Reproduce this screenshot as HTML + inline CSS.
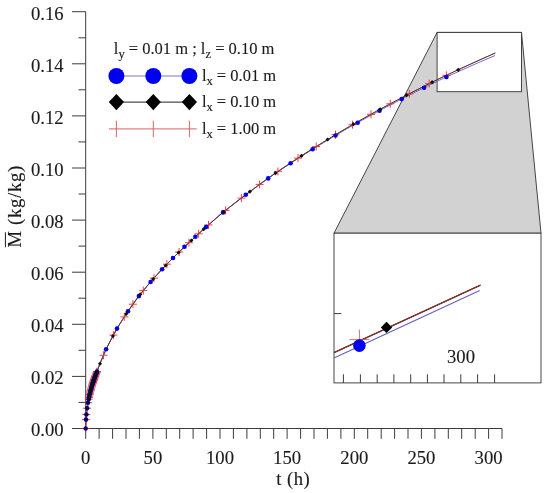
<!DOCTYPE html><html><head><meta charset="utf-8"><title>chart</title><style>html,body{margin:0;padding:0;background:#fff}svg{display:block}text{font-family:"Liberation Serif",serif;fill:#1a1a1a;stroke:#1a1a1a;stroke-width:0.12px}</style></head><body>
<svg width="550" height="493" viewBox="0 0 550 493">
<rect width="550" height="493" fill="#fff"/>
<polygon points="437.1,32.4 521.5,32.4 541,233.2 334,233.2" fill="#d2d2d2" stroke="#333" stroke-width="0.9"/>
<rect x="437.1" y="32.4" width="84.4" height="59.3" fill="#fff" stroke="#333" stroke-width="0.9"/>
<rect x="334" y="233.2" width="207" height="149.7" fill="#fff" stroke="#333" stroke-width="0.9"/>
<g stroke="#3c3c3c" stroke-width="1" fill="none">
<path d="M85.7,11.7V428.5H502"/>
<path d="M72,428.5H85.7"/>
<path d="M78.5,402.4H85.7"/>
<path d="M72,376.4H85.7"/>
<path d="M78.5,350.3H85.7"/>
<path d="M72,324.3H85.7"/>
<path d="M78.5,298.2H85.7"/>
<path d="M72,272.2H85.7"/>
<path d="M78.5,246.1H85.7"/>
<path d="M72,220.1H85.7"/>
<path d="M78.5,194.0H85.7"/>
<path d="M72,168.0H85.7"/>
<path d="M78.5,141.9H85.7"/>
<path d="M72,115.9H85.7"/>
<path d="M78.5,89.8H85.7"/>
<path d="M72,63.8H85.7"/>
<path d="M78.5,37.8H85.7"/>
<path d="M72,11.7H85.7"/>
<path d="M85.7,428.5V438.8"/>
<path d="M99.1,428.5V438.8"/>
<path d="M112.6,428.5V438.8"/>
<path d="M126.0,428.5V438.8"/>
<path d="M139.4,428.5V438.8"/>
<path d="M152.9,428.5V438.8"/>
<path d="M166.3,428.5V438.8"/>
<path d="M179.7,428.5V438.8"/>
<path d="M193.1,428.5V438.8"/>
<path d="M206.6,428.5V438.8"/>
<path d="M220.0,428.5V438.8"/>
<path d="M233.4,428.5V438.8"/>
<path d="M246.9,428.5V438.8"/>
<path d="M260.3,428.5V438.8"/>
<path d="M273.7,428.5V438.8"/>
<path d="M287.1,428.5V438.8"/>
<path d="M300.6,428.5V438.8"/>
<path d="M314.0,428.5V438.8"/>
<path d="M327.4,428.5V438.8"/>
<path d="M340.9,428.5V438.8"/>
<path d="M354.3,428.5V438.8"/>
<path d="M367.7,428.5V438.8"/>
<path d="M381.2,428.5V438.8"/>
<path d="M394.6,428.5V438.8"/>
<path d="M408.0,428.5V438.8"/>
<path d="M421.4,428.5V438.8"/>
<path d="M434.9,428.5V438.8"/>
<path d="M448.3,428.5V438.8"/>
<path d="M461.7,428.5V438.8"/>
<path d="M475.2,428.5V438.8"/>
<path d="M488.6,428.5V438.8"/>
<path d="M502.0,428.5V438.8"/>
<path d="M343.4,382.9V374.3"/>
<path d="M360.4,382.9V374.3"/>
<path d="M377.2,382.9V374.3"/>
<path d="M393.9,382.9V374.3"/>
<path d="M410.7,382.9V374.3"/>
<path d="M427.4,382.9V374.3"/>
<path d="M444.0,382.9V374.3"/>
<path d="M460.8,382.9V374.3"/>
<path d="M477.6,382.9V374.3"/>
<path d="M494.6,382.9V374.3"/>
<path d="M334,313.6H341.4"/>
</g>
<text x="63.6" y="436.3" font-size="18.67" text-anchor="end">0.00</text>
<text x="63.6" y="384.2" font-size="18.67" text-anchor="end">0.02</text>
<text x="63.6" y="332.1" font-size="18.67" text-anchor="end">0.04</text>
<text x="63.6" y="280.0" font-size="18.67" text-anchor="end">0.06</text>
<text x="63.6" y="227.9" font-size="18.67" text-anchor="end">0.08</text>
<text x="63.6" y="175.8" font-size="18.67" text-anchor="end">0.10</text>
<text x="63.6" y="123.7" font-size="18.67" text-anchor="end">0.12</text>
<text x="63.6" y="71.6" font-size="18.67" text-anchor="end">0.14</text>
<text x="63.6" y="19.5" font-size="18.67" text-anchor="end">0.16</text>
<text x="85.7" y="464" font-size="18.67" text-anchor="middle">0</text>
<text x="152.9" y="464" font-size="18.67" text-anchor="middle">50</text>
<text x="220.0" y="464" font-size="18.67" text-anchor="middle">100</text>
<text x="287.1" y="464" font-size="18.67" text-anchor="middle">150</text>
<text x="354.3" y="464" font-size="18.67" text-anchor="middle">200</text>
<text x="421.4" y="464" font-size="18.67" text-anchor="middle">250</text>
<text x="488.6" y="464" font-size="18.67" text-anchor="middle">300</text>
<text x="293.3" y="485" font-size="18.67" text-anchor="middle" letter-spacing="0.5">t (h)</text>
<text transform="translate(20.7,247.6) rotate(-90)" font-size="18.67" letter-spacing="0.7">M (kg/kg)</text>
<path d="M5.4,232.3V247.3" stroke="#1a1a1a" stroke-width="1" fill="none"/>
<text x="461" y="363" font-size="18.67" text-anchor="middle">300</text>
<path d="M85.70,428.50 L85.70,427.64 L85.71,426.77 L85.72,425.91 L85.74,425.04 L85.76,424.18 L85.79,423.32 L85.83,422.45 L85.86,421.59 L85.91,420.72 L85.96,419.86 L86.01,419.00 L86.07,418.13 L86.13,417.27 L86.20,416.41 L86.28,415.54 L86.35,414.68 L86.44,413.82 L86.53,412.96 L86.62,412.09 L86.72,411.23 L86.83,410.37 L86.94,409.51 L87.05,408.65 L87.17,407.79 L87.30,406.93 L87.43,406.06 L87.57,405.20 L87.71,404.34 L87.85,403.48 L88.00,402.63 L88.16,401.77 L88.32,400.91 L88.49,400.05 L88.66,399.19 L88.83,398.33 L89.02,397.48 L89.20,396.62 L89.39,395.76 L89.59,394.91 L89.79,394.05 L90.00,393.20 L90.21,392.34 L90.43,391.49 L90.65,390.63 L90.88,389.78 L91.11,388.93 L91.35,388.07 L91.59,387.22 L91.84,386.37 L92.10,385.52 L92.35,384.67 L92.62,383.82 L92.89,382.97 L93.16,382.12 L93.44,381.27 L93.72,380.43 L94.01,379.58 L94.31,378.73 L94.61,377.89 L94.91,377.04 L95.22,376.20 L95.53,375.36 L95.85,374.51 L96.18,373.67 L96.51,372.83 L96.84,371.99 L97.18,371.09 L97.53,370.16 L97.88,369.22 L98.24,368.27 L98.60,367.33 L98.96,366.38 L99.33,365.42 L99.71,364.47 L100.09,363.50 L100.48,362.54 L100.87,361.57 L101.27,360.60 L101.67,359.62 L102.07,358.64 L102.49,357.65 L102.90,356.66 L103.32,355.67 L103.75,354.67 L104.18,353.67 L104.62,352.66 L105.06,351.65 L105.51,350.64 L105.97,349.61 L106.42,348.64 L106.89,347.69 L107.35,346.74 L107.83,345.79 L108.31,344.83 L108.79,343.88 L109.28,342.92 L109.77,341.96 L110.27,340.99 L110.78,340.03 L111.28,339.06 L111.80,338.09 L112.32,337.12 L112.84,336.14 L113.37,335.16 L113.91,334.18 L114.45,333.20 L114.99,332.22 L115.54,331.23 L116.10,330.24 L116.66,329.25 L117.22,328.27 L117.79,327.32 L118.37,326.36 L118.95,325.40 L119.54,324.44 L120.13,323.48 L120.72,322.52 L121.32,321.55 L121.93,320.59 L122.54,319.62 L123.16,318.65 L123.78,317.68 L124.41,316.71 L125.04,315.73 L125.68,314.76 L126.32,313.78 L126.96,312.80 L127.62,311.82 L128.27,310.85 L128.94,309.89 L129.60,308.92 L130.28,307.95 L130.96,306.99 L131.64,306.02 L132.33,305.05 L133.02,304.08 L133.72,303.11 L134.42,302.13 L135.13,301.16 L135.84,300.18 L136.56,299.21 L137.29,298.23 L138.02,297.25 L138.75,296.27 L139.49,295.29 L140.24,294.36 L140.98,293.42 L141.74,292.49 L142.50,291.56 L143.26,290.62 L144.03,289.69 L144.81,288.76 L145.59,287.82 L146.38,286.89 L147.17,285.95 L147.96,285.02 L148.76,284.08 L149.57,283.14 L150.38,282.21 L151.20,281.27 L152.02,280.33 L152.84,279.40 L153.67,278.46 L154.51,277.52 L155.35,276.58 L156.20,275.64 L157.05,274.71 L157.91,273.77 L158.77,272.83 L159.64,271.89 L160.51,270.95 L161.39,270.01 L162.27,269.07 L163.16,268.12 L164.05,267.18 L164.95,266.24 L165.85,265.30 L166.76,264.36 L167.67,263.41 L168.59,262.47 L169.52,261.53 L170.44,260.58 L171.38,259.64 L172.32,258.69 L173.26,257.75 L174.21,256.80 L175.17,255.86 L176.12,254.91 L177.09,253.96 L178.06,253.02 L179.03,252.07 L180.01,251.12 L181.00,250.17 L181.99,249.23 L182.98,248.28 L183.98,247.33 L184.99,246.38 L186.00,245.43 L187.02,244.48 L188.04,243.53 L189.06,242.58 L190.09,241.63 L191.13,240.67 L192.17,239.72 L193.22,238.77 L194.27,237.79 L195.33,236.81 L196.39,235.82 L197.45,234.84 L198.53,233.86 L199.60,232.87 L200.69,231.89 L201.77,230.90 L202.87,229.91 L203.96,228.93 L205.07,227.94 L206.17,226.95 L207.29,225.96 L208.40,224.96 L209.53,223.97 L210.66,222.98 L211.79,221.99 L212.93,220.99 L214.07,220.00 L215.22,219.00 L216.37,218.00 L217.53,217.00 L218.70,216.00 L219.87,215.00 L221.04,214.04 L222.22,213.09 L223.40,212.13 L224.59,211.18 L225.79,210.22 L226.99,209.26 L228.19,208.31 L229.40,207.35 L230.62,206.39 L231.84,205.43 L233.06,204.48 L234.30,203.52 L235.53,202.56 L236.77,201.60 L238.02,200.64 L239.27,199.68 L240.53,198.72 L241.79,197.76 L243.05,196.80 L244.32,195.84 L245.60,194.88 L246.88,193.91 L248.17,192.95 L249.46,191.99 L250.76,191.03 L252.06,190.06 L253.37,189.10 L254.68,188.14 L256.00,187.17 L257.32,186.21 L258.65,185.24 L259.98,184.28 L261.32,183.31 L262.66,182.35 L264.01,181.38 L265.36,180.42 L266.72,179.45 L268.09,178.48 L269.46,177.51 L270.83,176.55 L272.21,175.58 L273.59,174.61 L274.98,173.66 L276.38,172.72 L277.78,171.78 L279.18,170.84 L280.59,169.90 L282.00,168.95 L283.42,168.01 L284.85,167.07 L286.28,166.12 L287.72,165.18 L289.16,164.24 L290.60,163.30 L292.05,162.35 L293.51,161.41 L294.97,160.47 L296.43,159.52 L297.91,158.58 L299.38,157.64 L300.86,156.69 L302.35,155.75 L303.84,154.81 L305.34,153.86 L306.84,152.92 L308.35,151.98 L309.86,151.03 L311.38,150.09 L312.90,149.15 L314.42,148.20 L315.96,147.26 L317.49,146.31 L319.04,145.37 L320.59,144.43 L322.14,143.48 L323.70,142.54 L325.26,141.59 L326.83,140.65 L328.40,139.70 L329.98,138.76 L331.56,137.82 L333.15,136.87 L334.75,135.93 L336.35,134.98 L337.95,134.04 L339.56,133.09 L341.17,132.15 L342.79,131.20 L344.42,130.26 L346.05,129.31 L347.68,128.37 L349.32,127.42 L350.97,126.47 L352.62,125.53 L354.27,124.58 L355.93,123.65 L357.60,122.72 L359.27,121.79 L360.94,120.86 L362.63,119.93 L364.31,119.00 L366.00,118.07 L367.70,117.14 L369.40,116.21 L371.11,115.28 L372.82,114.35 L374.53,113.42 L376.26,112.49 L377.98,111.56 L379.72,110.63 L381.45,109.71 L383.20,108.78 L384.94,107.85 L386.69,106.92 L388.45,105.99 L390.22,105.06 L391.98,104.13 L393.76,103.20 L395.53,102.27 L397.32,101.35 L399.11,100.42 L400.90,99.49 L402.70,98.56 L404.50,97.63 L406.31,96.70 L408.12,95.77 L409.94,94.85 L411.77,93.92 L413.60,92.99 L415.43,92.06 L417.27,91.13 L419.12,90.21 L420.96,89.28 L422.82,88.35 L424.68,87.42 L426.54,86.50 L428.42,85.57 L430.29,84.64 L432.17,83.72 L434.06,82.79 L435.95,81.88 L437.84,81.00 L439.74,80.12 L441.65,79.23 L443.56,78.35 L445.48,77.46 L447.40,76.58 L449.32,75.70 L451.26,74.82 L453.19,73.93 L455.14,73.05 L457.08,72.17 L459.03,71.29 L460.99,70.41 L462.95,69.53 L464.92,68.65 L466.89,67.78 L468.87,66.90 L470.85,66.02 L472.84,65.14 L474.83,64.27 L476.83,63.39 L478.84,62.51 L480.84,61.64 L482.86,60.76 L484.88,59.89 L486.90,59.01 L488.93,58.14 L490.96,57.27 L493.00,56.39 L495.05,55.52" fill="none" stroke="#5a5ac8" stroke-width="0.9"/>
<path d="M85.70,428.50 L85.70,427.64 L85.71,426.77 L85.72,425.91 L85.74,425.04 L85.76,424.18 L85.79,423.31 L85.83,422.45 L85.86,421.59 L85.91,420.72 L85.96,419.86 L86.01,418.99 L86.07,418.13 L86.13,417.27 L86.20,416.40 L86.28,415.54 L86.36,414.68 L86.44,413.81 L86.53,412.95 L86.62,412.09 L86.72,411.23 L86.83,410.36 L86.94,409.50 L87.05,408.64 L87.17,407.78 L87.30,406.92 L87.43,406.06 L87.57,405.20 L87.71,404.34 L87.85,403.48 L88.00,402.62 L88.16,401.76 L88.32,400.90 L88.49,400.04 L88.66,399.18 L88.84,398.32 L89.02,397.47 L89.20,396.61 L89.40,395.75 L89.59,394.90 L89.80,394.04 L90.00,393.18 L90.22,392.33 L90.43,391.47 L90.66,390.62 L90.88,389.77 L91.12,388.91 L91.36,388.06 L91.60,387.21 L91.85,386.36 L92.10,385.51 L92.36,384.66 L92.62,383.81 L92.89,382.96 L93.17,382.11 L93.44,381.26 L93.73,380.41 L94.02,379.56 L94.31,378.72 L94.61,377.87 L94.92,377.03 L95.23,376.18 L95.54,375.34 L95.86,374.50 L96.19,373.65 L96.52,372.81 L96.85,371.97 L97.19,371.07 L97.54,370.14 L97.89,369.20 L98.24,368.25 L98.61,367.31 L98.97,366.36 L99.34,365.40 L99.72,364.44 L100.10,363.48 L100.49,362.52 L100.88,361.55 L101.28,360.57 L101.68,359.59 L102.08,358.61 L102.50,357.63 L102.91,356.64 L103.34,355.64 L103.76,354.64 L104.20,353.64 L104.63,352.63 L105.08,351.62 L105.53,350.61 L105.98,349.58 L106.44,348.61 L106.90,347.67 L107.37,346.71 L107.84,345.76 L108.32,344.81 L108.80,343.85 L109.29,342.89 L109.79,341.93 L110.29,340.96 L110.79,340.00 L111.30,339.03 L111.82,338.06 L112.34,337.08 L112.86,336.11 L113.39,335.13 L113.93,334.15 L114.47,333.17 L115.01,332.18 L115.56,331.20 L116.12,330.21 L116.68,329.21 L117.24,328.24 L117.81,327.28 L118.39,326.32 L118.97,325.36 L119.56,324.40 L120.15,323.44 L120.75,322.48 L121.35,321.51 L121.95,320.55 L122.57,319.58 L123.18,318.61 L123.80,317.64 L124.43,316.67 L125.06,315.69 L125.70,314.72 L126.34,313.74 L126.99,312.76 L127.64,311.78 L128.30,310.81 L128.97,309.84 L129.63,308.88 L130.31,307.91 L130.99,306.95 L131.67,305.98 L132.36,305.01 L133.05,304.04 L133.75,303.06 L134.45,302.09 L135.16,301.11 L135.88,300.14 L136.60,299.16 L137.32,298.18 L138.05,297.20 L138.79,296.22 L139.53,295.25 L140.27,294.31 L141.02,293.38 L141.78,292.45 L142.54,291.51 L143.30,290.58 L144.07,289.64 L144.85,288.71 L145.63,287.77 L146.42,286.84 L147.21,285.90 L148.00,284.97 L148.80,284.03 L149.61,283.10 L150.42,282.16 L151.24,281.22 L152.06,280.28 L152.89,279.35 L153.72,278.41 L154.56,277.47 L155.40,276.53 L156.25,275.59 L157.10,274.65 L157.96,273.71 L158.82,272.77 L159.69,271.83 L160.56,270.89 L161.44,269.95 L162.32,269.01 L163.21,268.07 L164.10,267.13 L165.00,266.19 L165.91,265.24 L166.81,264.30 L167.73,263.36 L168.65,262.41 L169.57,261.47 L170.50,260.53 L171.43,259.58 L172.37,258.64 L173.32,257.69 L174.27,256.75 L175.22,255.80 L176.18,254.85 L177.15,253.91 L178.12,252.96 L179.09,252.01 L180.08,251.06 L181.06,250.11 L182.05,249.17 L183.05,248.22 L184.05,247.27 L185.05,246.32 L186.07,245.37 L187.08,244.42 L188.10,243.47 L189.13,242.51 L190.16,241.56 L191.20,240.61 L192.24,239.66 L193.29,238.70 L194.34,237.72 L195.40,236.74 L196.46,235.76 L197.53,234.77 L198.60,233.79 L199.68,232.80 L200.76,231.82 L201.85,230.83 L202.94,229.84 L204.04,228.86 L205.14,227.87 L206.25,226.88 L207.37,225.89 L208.48,224.89 L209.61,223.90 L210.74,222.91 L211.87,221.91 L213.01,220.92 L214.16,219.92 L215.30,218.93 L216.46,217.93 L217.62,216.93 L218.78,215.93 L219.95,214.93 L221.13,213.97 L222.31,213.02 L223.49,212.06 L224.68,211.10 L225.88,210.15 L227.08,209.19 L228.29,208.23 L229.50,207.27 L230.71,206.32 L231.94,205.36 L233.16,204.40 L234.39,203.44 L235.63,202.48 L236.87,201.52 L238.12,200.56 L239.37,199.60 L240.63,198.64 L241.89,197.68 L243.16,196.72 L244.43,195.76 L245.71,194.80 L246.99,193.83 L248.28,192.86 L249.57,191.89 L250.87,190.91 L252.17,189.94 L253.48,188.96 L254.79,187.99 L256.11,187.01 L257.43,186.04 L258.76,185.06 L260.10,184.08 L261.44,183.11 L262.78,182.13 L264.13,181.15 L265.48,180.17 L266.84,179.19 L268.21,178.21 L269.58,177.24 L270.95,176.26 L272.33,175.28 L273.72,174.29 L275.11,173.34 L276.50,172.39 L277.90,171.43 L279.31,170.48 L280.72,169.52 L282.13,168.57 L283.55,167.61 L284.98,166.66 L286.41,165.70 L287.85,164.75 L289.29,163.79 L290.74,162.84 L292.19,161.88 L293.64,160.92 L295.11,159.97 L296.57,159.01 L298.04,158.06 L299.52,157.10 L301.00,156.14 L302.49,155.19 L303.98,154.23 L305.48,153.27 L306.98,152.32 L308.49,151.36 L310.01,150.40 L311.52,149.45 L313.05,148.49 L314.57,147.53 L316.11,146.58 L317.65,145.62 L319.19,144.66 L320.74,143.70 L322.29,142.75 L323.85,141.79 L325.42,140.83 L326.99,139.87 L328.56,138.91 L330.14,137.96 L331.73,137.00 L333.31,136.04 L334.91,135.08 L336.51,134.12 L338.12,133.16 L339.73,132.20 L341.34,131.24 L342.96,130.29 L344.59,129.33 L346.22,128.37 L347.85,127.41 L349.49,126.45 L351.14,125.49 L352.79,124.53 L354.45,123.57 L356.11,122.62 L357.78,121.68 L359.45,120.73 L361.13,119.79 L362.81,118.85 L364.49,117.90 L366.19,116.96 L367.88,116.01 L369.59,115.07 L371.29,114.12 L373.01,113.18 L374.72,112.23 L376.45,111.29 L378.18,110.34 L379.91,109.40 L381.65,108.45 L383.39,107.51 L385.14,106.57 L386.89,105.62 L388.65,104.68 L390.42,103.73 L392.18,102.79 L393.96,101.84 L395.74,100.90 L397.52,99.96 L399.31,99.01 L401.11,98.07 L402.91,97.12 L404.71,96.18 L406.52,95.24 L408.34,94.29 L410.16,93.35 L411.98,92.40 L413.81,91.46 L415.65,90.52 L417.49,89.57 L419.33,88.63 L421.18,87.69 L423.04,86.74 L424.90,85.80 L426.77,84.86 L428.64,83.91 L430.52,82.97 L432.40,82.02 L434.28,81.08 L436.18,80.16 L438.07,79.25 L439.98,78.34 L441.88,77.43 L443.80,76.52 L445.71,75.61 L447.64,74.70 L449.56,73.79 L451.50,72.89 L453.43,71.98 L455.38,71.07 L457.33,70.17 L459.28,69.26 L461.24,68.35 L463.20,67.45 L465.17,66.54 L467.14,65.64 L469.12,64.73 L471.11,63.83 L473.10,62.92 L475.09,62.02 L477.09,61.12 L479.09,60.21 L481.10,59.31 L483.12,58.41 L485.14,57.51 L487.16,56.61 L489.19,55.71 L491.23,54.81 L493.27,53.91 L495.31,53.01" fill="none" stroke="#202020" stroke-width="1"/>
<path d="M85.70,428.50 L85.70,427.64 L85.71,426.77 L85.72,425.91 L85.74,425.04 L85.76,424.18 L85.79,423.31 L85.83,422.45 L85.86,421.59 L85.91,420.72 L85.96,419.86 L86.01,418.99 L86.07,418.13 L86.13,417.27 L86.20,416.40 L86.28,415.54 L86.36,414.68 L86.44,413.81 L86.53,412.95 L86.62,412.09 L86.72,411.23 L86.83,410.36 L86.94,409.50 L87.05,408.64 L87.17,407.78 L87.30,406.92 L87.43,406.06 L87.57,405.20 L87.71,404.34 L87.85,403.48 L88.00,402.62 L88.16,401.76 L88.32,400.90 L88.49,400.04 L88.66,399.18 L88.84,398.32 L89.02,397.47 L89.20,396.61 L89.40,395.75 L89.59,394.90 L89.80,394.04 L90.00,393.18 L90.22,392.33 L90.43,391.47 L90.66,390.62 L90.88,389.77 L91.12,388.91 L91.36,388.06 L91.60,387.21 L91.85,386.36 L92.10,385.51 L92.36,384.66 L92.62,383.81 L92.89,382.96 L93.17,382.11 L93.44,381.26 L93.73,380.41 L94.02,379.56 L94.31,378.72 L94.61,377.87 L94.92,377.03 L95.23,376.18 L95.54,375.34 L95.86,374.50 L96.19,373.65 L96.52,372.81 L96.85,371.97 L97.19,371.07 L97.54,370.14 L97.89,369.20 L98.24,368.25 L98.61,367.31 L98.97,366.36 L99.34,365.40 L99.72,364.44 L100.10,363.48 L100.49,362.52 L100.88,361.55 L101.28,360.57 L101.68,359.59 L102.08,358.61 L102.50,357.63 L102.91,356.64 L103.34,355.64 L103.76,354.64 L104.20,353.64 L104.63,352.63 L105.08,351.62 L105.53,350.61 L105.98,349.58 L106.44,348.61 L106.90,347.67 L107.37,346.71 L107.84,345.76 L108.32,344.81 L108.80,343.85 L109.29,342.89 L109.79,341.93 L110.29,340.96 L110.79,340.00 L111.30,339.03 L111.82,338.06 L112.34,337.08 L112.86,336.11 L113.39,335.13 L113.93,334.15 L114.47,333.17 L115.01,332.18 L115.56,331.20 L116.12,330.21 L116.68,329.21 L117.24,328.24 L117.81,327.28 L118.39,326.32 L118.97,325.36 L119.56,324.40 L120.15,323.44 L120.75,322.48 L121.35,321.51 L121.95,320.55 L122.57,319.58 L123.18,318.61 L123.80,317.64 L124.43,316.67 L125.06,315.69 L125.70,314.72 L126.34,313.74 L126.99,312.76 L127.64,311.78 L128.30,310.81 L128.97,309.84 L129.63,308.88 L130.31,307.91 L130.99,306.95 L131.67,305.98 L132.36,305.01 L133.05,304.04 L133.75,303.06 L134.45,302.09 L135.16,301.11 L135.88,300.14 L136.60,299.16 L137.32,298.18 L138.05,297.20 L138.79,296.22 L139.53,295.25 L140.27,294.31 L141.02,293.38 L141.78,292.45 L142.54,291.51 L143.30,290.58 L144.07,289.64 L144.85,288.71 L145.63,287.77 L146.42,286.84 L147.21,285.90 L148.00,284.97 L148.80,284.03 L149.61,283.10 L150.42,282.16 L151.24,281.22 L152.06,280.28 L152.89,279.35 L153.72,278.41 L154.56,277.47 L155.40,276.53 L156.25,275.59 L157.10,274.65 L157.96,273.71 L158.82,272.77 L159.69,271.83 L160.56,270.89 L161.44,269.95 L162.32,269.01 L163.21,268.07 L164.10,267.13 L165.00,266.19 L165.91,265.24 L166.81,264.30 L167.73,263.36 L168.65,262.41 L169.57,261.47 L170.50,260.53 L171.43,259.58 L172.37,258.64 L173.32,257.69 L174.27,256.75 L175.22,255.80 L176.18,254.85 L177.15,253.91 L178.12,252.96 L179.09,252.01 L180.08,251.06 L181.06,250.11 L182.05,249.17 L183.05,248.22 L184.05,247.27 L185.05,246.32 L186.07,245.37 L187.08,244.42 L188.10,243.47 L189.13,242.51 L190.16,241.56 L191.20,240.61 L192.24,239.66 L193.29,238.70 L194.34,237.72 L195.40,236.74 L196.46,235.76 L197.53,234.77 L198.60,233.79 L199.68,232.80 L200.76,231.82 L201.85,230.83 L202.94,229.84 L204.04,228.86 L205.14,227.87 L206.25,226.88 L207.37,225.89 L208.48,224.89 L209.61,223.90 L210.74,222.91 L211.87,221.91 L213.01,220.92 L214.16,219.92 L215.30,218.93 L216.46,217.93 L217.62,216.93 L218.78,215.93 L219.95,214.93 L221.13,213.97 L222.31,213.02 L223.49,212.06 L224.68,211.10 L225.88,210.15 L227.08,209.19 L228.29,208.23 L229.50,207.27 L230.71,206.32 L231.94,205.36 L233.16,204.40 L234.39,203.44 L235.63,202.48 L236.87,201.52 L238.12,200.56 L239.37,199.60 L240.63,198.64 L241.89,197.68 L243.16,196.72 L244.43,195.76 L245.71,194.80 L246.99,193.83 L248.28,192.86 L249.57,191.89 L250.87,190.91 L252.17,189.94 L253.48,188.96 L254.79,187.99 L256.11,187.01 L257.43,186.04 L258.76,185.06 L260.10,184.08 L261.44,183.11 L262.78,182.13 L264.13,181.15 L265.48,180.17 L266.84,179.19 L268.21,178.21 L269.58,177.24 L270.95,176.26 L272.33,175.28 L273.72,174.29 L275.11,173.34 L276.50,172.39 L277.90,171.43 L279.31,170.48 L280.72,169.52 L282.13,168.57 L283.55,167.61 L284.98,166.66 L286.41,165.70 L287.85,164.75 L289.29,163.79 L290.74,162.84 L292.19,161.88 L293.64,160.92 L295.11,159.97 L296.57,159.01 L298.04,158.06 L299.52,157.10 L301.00,156.14 L302.49,155.19 L303.98,154.23 L305.48,153.27 L306.98,152.32 L308.49,151.36 L310.01,150.40 L311.52,149.45 L313.05,148.49 L314.57,147.53 L316.11,146.58 L317.65,145.62 L319.19,144.66 L320.74,143.70 L322.29,142.75 L323.85,141.79 L325.42,140.83 L326.99,139.87 L328.56,138.91 L330.14,137.96 L331.73,137.00 L333.31,136.04 L334.91,135.08 L336.51,134.12 L338.12,133.16 L339.73,132.20 L341.34,131.24 L342.96,130.29 L344.59,129.33 L346.22,128.37 L347.85,127.41 L349.49,126.45 L351.14,125.49 L352.79,124.53 L354.45,123.57 L356.11,122.62 L357.78,121.68 L359.45,120.73 L361.13,119.79 L362.81,118.85 L364.49,117.90 L366.19,116.96 L367.88,116.01 L369.59,115.07 L371.29,114.12 L373.01,113.18 L374.72,112.23 L376.45,111.29 L378.18,110.34 L379.91,109.40 L381.65,108.45 L383.39,107.51 L385.14,106.57 L386.89,105.62 L388.65,104.68 L390.42,103.73 L392.18,102.79 L393.96,101.84 L395.74,100.90 L397.52,99.96 L399.31,99.01 L401.11,98.07 L402.91,97.12 L404.71,96.18 L406.52,95.24 L408.34,94.29 L410.16,93.35 L411.98,92.40 L413.81,91.46 L415.65,90.52 L417.49,89.57 L419.33,88.63 L421.18,87.69 L423.04,86.74 L424.90,85.80 L426.77,84.86 L428.64,83.91 L430.52,82.97 L432.40,82.02 L434.28,81.08 L436.18,80.16 L438.07,79.25 L439.98,78.34 L441.88,77.43 L443.80,76.52 L445.71,75.61 L447.64,74.70 L449.56,73.79 L451.50,72.89 L453.43,71.98 L455.38,71.07 L457.33,70.17 L459.28,69.26 L461.24,68.35 L463.20,67.45 L465.17,66.54 L467.14,65.64 L469.12,64.73 L471.11,63.83 L473.10,62.92 L475.09,62.02 L477.09,61.12 L479.09,60.21 L481.10,59.31 L483.12,58.41 L485.14,57.51 L487.16,56.61 L489.19,55.71 L491.23,54.81 L493.27,53.91 L495.31,53.01" fill="none" stroke="#b03030" stroke-width="0.6" opacity="0.8"/>
<g stroke="#e03030" stroke-width="0.9" fill="none">
<path d="M81.7,428.5h8M85.7,424.5v8"/>
<path d="M82.0,419.6h8M86.0,415.6v8"/>
<path d="M82.4,414.5h8M86.4,410.5v8"/>
<path d="M83.1,408.2h8M87.1,404.2v8"/>
<path d="M84.0,402.7h8M88.0,398.7v8"/>
<path d="M84.7,399.2h8M88.7,395.2v8"/>
<path d="M85.0,397.6h8M89.0,393.6v8"/>
<path d="M85.3,396.1h8M89.3,392.1v8"/>
<path d="M85.7,394.6h8M89.7,390.6v8"/>
<path d="M86.0,393.2h8M90.0,389.2v8"/>
<path d="M86.3,391.9h8M90.3,387.9v8"/>
<path d="M86.7,390.6h8M90.7,386.6v8"/>
<path d="M87.0,389.3h8M91.0,385.3v8"/>
<path d="M87.3,388.1h8M91.3,384.1v8"/>
<path d="M87.7,386.9h8M91.7,382.9v8"/>
<path d="M88.0,385.8h8M92.0,381.8v8"/>
<path d="M88.3,384.7h8M92.3,380.7v8"/>
<path d="M88.7,383.6h8M92.7,379.6v8"/>
<path d="M89.0,382.6h8M93.0,378.6v8"/>
<path d="M89.4,381.5h8M93.4,377.5v8"/>
<path d="M89.7,380.5h8M93.7,376.5v8"/>
<path d="M90.0,379.5h8M94.0,375.5v8"/>
<path d="M90.4,378.6h8M94.4,374.6v8"/>
<path d="M90.7,377.6h8M94.7,373.6v8"/>
<path d="M91.0,376.7h8M95.0,372.7v8"/>
<path d="M91.4,375.8h8M95.4,371.8v8"/>
<path d="M91.7,374.9h8M95.7,370.9v8"/>
<path d="M92.0,374.0h8M96.0,370.0v8"/>
<path d="M92.4,373.2h8M96.4,369.2v8"/>
<path d="M92.7,372.3h8M96.7,368.3v8"/>
<path d="M93.0,371.5h8M97.0,367.5v8"/>
<path d="M99.5,355.3h8M103.5,351.3v8"/>
<path d="M109.4,335.1h8M113.4,331.1v8"/>
<path d="M120.3,316.9h8M124.3,312.9v8"/>
<path d="M128.9,304.2h8M132.9,300.2v8"/>
<path d="M139.3,290.6h8M143.3,286.6v8"/>
<path d="M150.0,278.1h8M154.0,274.1v8"/>
<path d="M162.9,264.2h8M166.9,260.2v8"/>
<path d="M175.1,252.0h8M179.1,248.0v8"/>
<path d="M184.9,242.7h8M188.9,238.7v8"/>
<path d="M194.6,233.8h8M198.6,229.8v8"/>
<path d="M204.5,224.9h8M208.5,220.9v8"/>
<path d="M221.6,210.4h8M225.6,206.4v8"/>
<path d="M237.4,198.1h8M241.4,194.1v8"/>
<path d="M255.6,184.4h8M259.6,180.4v8"/>
<path d="M273.9,171.4h8M277.9,167.4v8"/>
<path d="M294.0,158.1h8M298.0,154.1v8"/>
<path d="M312.2,146.5h8M316.2,142.5v8"/>
<path d="M331.5,134.7h8M335.5,130.7v8"/>
<path d="M348.5,124.7h8M352.5,120.7v8"/>
<path d="M367.0,114.3h8M371.0,110.3v8"/>
<path d="M386.3,103.8h8M390.3,99.8v8"/>
<path d="M405.3,93.8h8M409.3,89.8v8"/>
<path d="M425.2,83.6h8M429.2,79.6v8"/>
<path d="M442.4,75.3h8M446.4,71.3v8"/>
</g>
<g fill="#0000e6">
<circle cx="85.7" cy="428.5" r="2.3"/>
<circle cx="86.0" cy="419.6" r="2.3"/>
<circle cx="86.4" cy="414.5" r="2.3"/>
<circle cx="87.1" cy="408.2" r="2.3"/>
<circle cx="88.0" cy="402.7" r="2.3"/>
<circle cx="88.7" cy="399.2" r="2.3"/>
<circle cx="89.0" cy="397.6" r="2.3"/>
<circle cx="89.3" cy="396.1" r="2.3"/>
<circle cx="89.7" cy="394.6" r="2.3"/>
<circle cx="90.0" cy="393.2" r="2.3"/>
<circle cx="90.3" cy="391.9" r="2.3"/>
<circle cx="90.7" cy="390.6" r="2.3"/>
<circle cx="91.0" cy="389.3" r="2.3"/>
<circle cx="91.3" cy="388.1" r="2.3"/>
<circle cx="91.7" cy="386.9" r="2.3"/>
<circle cx="92.0" cy="385.8" r="2.3"/>
<circle cx="92.3" cy="384.7" r="2.3"/>
<circle cx="92.7" cy="383.6" r="2.3"/>
<circle cx="93.0" cy="382.6" r="2.3"/>
<circle cx="93.4" cy="381.5" r="2.3"/>
<circle cx="93.7" cy="380.5" r="2.3"/>
<circle cx="94.0" cy="379.5" r="2.3"/>
<circle cx="94.4" cy="378.6" r="2.3"/>
<circle cx="94.7" cy="377.6" r="2.3"/>
<circle cx="95.0" cy="376.7" r="2.3"/>
<circle cx="95.4" cy="375.8" r="2.3"/>
<circle cx="95.7" cy="374.9" r="2.3"/>
<circle cx="96.0" cy="374.0" r="2.3"/>
<circle cx="96.4" cy="373.2" r="2.3"/>
<circle cx="96.7" cy="372.3" r="2.3"/>
<circle cx="97.0" cy="371.5" r="2.3"/>
<circle cx="106.1" cy="349.3" r="2.3"/>
<circle cx="117.0" cy="328.6" r="2.3"/>
<circle cx="128.0" cy="311.3" r="2.3"/>
<circle cx="138.9" cy="296.1" r="2.3"/>
<circle cx="150.6" cy="282.0" r="2.3"/>
<circle cx="162.1" cy="269.2" r="2.3"/>
<circle cx="173.0" cy="258.0" r="2.3"/>
<circle cx="184.5" cy="246.8" r="2.3"/>
<circle cx="195.4" cy="236.7" r="2.3"/>
<circle cx="206.1" cy="227.0" r="2.3"/>
<circle cx="223.1" cy="212.4" r="2.3"/>
<circle cx="245.8" cy="194.7" r="2.3"/>
<circle cx="268.2" cy="178.4" r="2.3"/>
<circle cx="290.6" cy="163.3" r="2.3"/>
<circle cx="312.6" cy="149.3" r="2.3"/>
<circle cx="335.5" cy="135.5" r="2.3"/>
<circle cx="357.7" cy="122.7" r="2.3"/>
<circle cx="379.5" cy="110.8" r="2.3"/>
<circle cx="401.7" cy="99.1" r="2.3"/>
<circle cx="424.1" cy="87.7" r="2.3"/>
<circle cx="446.4" cy="77.0" r="2.3"/>
</g>
<g fill="#101010">
<path d="M83.6,428.5L85.7,426.4L87.8,428.5L85.7,430.6Z"/>
<path d="M83.9,419.6L86.0,417.5L88.1,419.6L86.0,421.7Z"/>
<path d="M84.3,414.5L86.4,412.4L88.5,414.5L86.4,416.6Z"/>
<path d="M85.0,408.2L87.1,406.1L89.2,408.2L87.1,410.3Z"/>
<path d="M85.9,402.7L88.0,400.6L90.1,402.7L88.0,404.8Z"/>
<path d="M86.6,399.2L88.7,397.1L90.8,399.2L88.7,401.3Z"/>
<path d="M86.9,397.6L89.0,395.5L91.1,397.6L89.0,399.7Z"/>
<path d="M87.2,396.1L89.3,394.0L91.4,396.1L89.3,398.2Z"/>
<path d="M87.6,394.6L89.7,392.5L91.8,394.6L89.7,396.7Z"/>
<path d="M87.9,393.2L90.0,391.1L92.1,393.2L90.0,395.3Z"/>
<path d="M88.2,391.9L90.3,389.8L92.4,391.9L90.3,394.0Z"/>
<path d="M88.6,390.6L90.7,388.5L92.8,390.6L90.7,392.7Z"/>
<path d="M88.9,389.3L91.0,387.2L93.1,389.3L91.0,391.4Z"/>
<path d="M89.2,388.1L91.3,386.0L93.4,388.1L91.3,390.2Z"/>
<path d="M89.6,386.9L91.7,384.8L93.8,386.9L91.7,389.0Z"/>
<path d="M89.9,385.8L92.0,383.7L94.1,385.8L92.0,387.9Z"/>
<path d="M90.2,384.7L92.3,382.6L94.4,384.7L92.3,386.8Z"/>
<path d="M90.6,383.6L92.7,381.5L94.8,383.6L92.7,385.7Z"/>
<path d="M90.9,382.6L93.0,380.5L95.1,382.6L93.0,384.7Z"/>
<path d="M91.3,381.5L93.4,379.4L95.5,381.5L93.4,383.6Z"/>
<path d="M91.6,380.5L93.7,378.4L95.8,380.5L93.7,382.6Z"/>
<path d="M91.9,379.5L94.0,377.4L96.1,379.5L94.0,381.6Z"/>
<path d="M92.3,378.6L94.4,376.5L96.5,378.6L94.4,380.7Z"/>
<path d="M92.6,377.6L94.7,375.5L96.8,377.6L94.7,379.7Z"/>
<path d="M92.9,376.7L95.0,374.6L97.1,376.7L95.0,378.8Z"/>
<path d="M93.3,375.8L95.4,373.7L97.5,375.8L95.4,377.9Z"/>
<path d="M93.6,374.9L95.7,372.8L97.8,374.9L95.7,377.0Z"/>
<path d="M93.9,374.0L96.0,371.9L98.1,374.0L96.0,376.1Z"/>
<path d="M94.3,373.2L96.4,371.1L98.5,373.2L96.4,375.3Z"/>
<path d="M94.6,372.3L96.7,370.2L98.8,372.3L96.7,374.4Z"/>
<path d="M94.9,371.5L97.0,369.4L99.1,371.5L97.0,373.6Z"/>
<path d="M97.9,363.7L100.0,361.6L102.1,363.7L100.0,365.8Z"/>
<path d="M110.8,336.0L112.9,333.9L115.0,336.0L112.9,338.1Z"/>
<path d="M124.2,313.8L126.3,311.7L128.4,313.8L126.3,315.9Z"/>
<path d="M138.1,294.4L140.2,292.3L142.3,294.4L140.2,296.5Z"/>
<path d="M151.0,279.1L153.1,277.0L155.2,279.1L153.1,281.2Z"/>
<path d="M163.6,265.5L165.7,263.4L167.8,265.5L165.7,267.6Z"/>
<path d="M176.5,252.5L178.6,250.4L180.7,252.5L178.6,254.6Z"/>
<path d="M189.2,240.5L191.3,238.4L193.4,240.5L191.3,242.6Z"/>
<path d="M201.6,229.2L203.7,227.1L205.8,229.2L203.7,231.3Z"/>
<path d="M221.5,212.0L223.6,209.9L225.7,212.0L223.6,214.1Z"/>
<path d="M247.8,191.6L249.9,189.5L252.0,191.6L249.9,193.7Z"/>
<path d="M273.4,173.1L275.5,171.0L277.6,173.1L275.5,175.2Z"/>
<path d="M299.4,155.8L301.5,153.7L303.6,155.8L301.5,157.9Z"/>
<path d="M325.5,139.5L327.6,137.4L329.7,139.5L327.6,141.6Z"/>
<path d="M351.3,124.2L353.4,122.1L355.5,124.2L353.4,126.3Z"/>
<path d="M378.0,109.3L380.1,107.2L382.2,109.3L380.1,111.4Z"/>
<path d="M404.4,95.2L406.5,93.1L408.6,95.2L406.5,97.3Z"/>
<path d="M430.0,82.2L432.1,80.1L434.2,82.2L432.1,84.3Z"/>
<path d="M456.1,69.8L458.2,67.7L460.3,69.8L458.2,71.9Z"/>
</g>
<path d="M334,358L479.7,290.5" stroke="#6060c0" stroke-width="1.1" fill="none"/>
<path d="M334,352.7L480.5,285.1" stroke="#301818" stroke-width="1.4" fill="none"/>
<path d="M334,352.7L480.5,285.1" stroke="#a83030" stroke-width="0.9" fill="none"/>
<path d="M349.4,339.6h20M359.4,329.6v20" stroke="#d05060" stroke-width="0.85" fill="none"/>
<circle cx="359.4" cy="345.6" r="6.3" fill="#0000f0"/>
<path d="M380.8,327.4L386.5,321.7L392.2,327.4L386.5,333.1Z" fill="#000"/>
<text x="113.8" y="53.5" font-size="16.5">l<tspan font-size="12.5" dy="4.2">y</tspan><tspan dy="-4.2"> = 0.01 m ; l</tspan><tspan font-size="12.5" dy="4.2">z</tspan><tspan dy="-4.2"> = 0.10 m</tspan></text>
<text x="201.9" y="80.6" font-size="16.5">l<tspan font-size="12.5" dy="4.2">x</tspan><tspan dy="-4.2"> = 0.01 m</tspan></text>
<text x="201.9" y="106.7" font-size="16.5">l<tspan font-size="12.5" dy="4.2">x</tspan><tspan dy="-4.2"> = 0.10 m</tspan></text>
<text x="201.9" y="133.5" font-size="16.5">l<tspan font-size="12.5" dy="4.2">x</tspan><tspan dy="-4.2"> = 1.00 m</tspan></text>
<path d="M116.4,76H189.4" stroke="#7878c8" stroke-width="1"/>
<circle cx="116.4" cy="76" r="8" fill="#0000f0"/>
<circle cx="153.3" cy="76" r="8" fill="#0000f0"/>
<circle cx="189.4" cy="76" r="8" fill="#0000f0"/>
<path d="M116.4,102.1H189.4" stroke="#202020" stroke-width="1"/>
<path d="M108.80000000000001,102.1L116.4,93.9L124.0,102.1L116.4,110.3Z" fill="#000"/>
<path d="M145.70000000000002,102.1L153.3,93.9L160.9,102.1L153.3,110.3Z" fill="#000"/>
<path d="M181.8,102.1L189.4,93.9L197.0,102.1L189.4,110.3Z" fill="#000"/>
<path d="M109,128.9H196.7" stroke="#d85050" stroke-width="0.9"/>
<path d="M116.4,120.7V137.1" stroke="#d85050" stroke-width="0.9"/>
<path d="M153.3,120.7V137.1" stroke="#d85050" stroke-width="0.9"/>
<path d="M189.4,120.7V137.1" stroke="#d85050" stroke-width="0.9"/>
</svg></body></html>
